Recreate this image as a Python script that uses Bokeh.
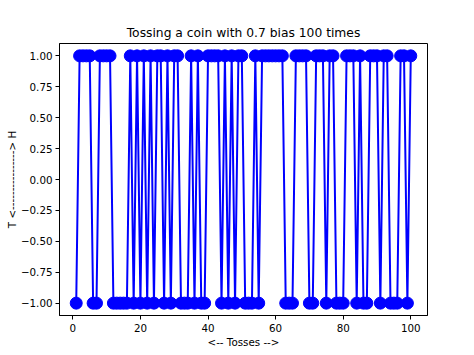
from bokeh.plotting import figure
from bokeh.models import Range1d, FixedTicker, CustomJSTickFormatter
from bokeh.embed import file_html
from bokeh.resources import INLINE

tosses = list(range(1, 101))
outcomes = [
    -1, 1, 1, 1, 1, -1, -1, 1, 1, 1,      # 1-10
    1, -1, -1, -1, -1, -1, 1, -1, 1, -1,  # 11-20
    1, -1, 1, -1, 1, 1, -1, 1, -1, 1,     # 21-30
    1, -1, -1, -1, 1, -1, 1, -1, -1, 1,   # 31-40
    1, 1, 1, -1, 1, -1, 1, -1, 1, 1,      # 41-50
    -1, -1, -1, 1, -1, 1, 1, 1, 1, 1,     # 51-60
    1, 1, -1, -1, -1, 1, 1, 1, 1, -1,     # 61-70
    -1, 1, 1, 1, -1, 1, 1, -1, -1, -1,    # 71-80
    1, 1, 1, -1, 1, -1, -1, 1, 1, 1,      # 81-90
    -1, 1, 1, -1, -1, -1, 1, 1, -1, 1,    # 91-100
]
x_ticks = [0, 20, 40, 60, 80, 100]
y_ticks = [-1.0, -0.75, -0.5, -0.25, 0.0, 0.25, 0.5, 0.75, 1.0]

FONT = "DejaVu Sans"

p = figure(width=474, height=355, output_backend="svg", toolbar_location=None,
           x_range=Range1d(-3.95, 104.95), y_range=Range1d(-1.1, 1.1),
           min_border_left=59, min_border_right=47, min_border_top=43, min_border_bottom=40,
           title="Tossing a coin with 0.7 bias 100 times")
p.background_fill_color = "white"
p.border_fill_color = "white"
p.outline_line_color = "black"
p.outline_line_width = 1
p.xgrid.visible = False
p.ygrid.visible = False

p.title.align = "center"
p.title.text_font = FONT
p.title.text_font_size = "12.3px"
p.title.text_font_style = "normal"
p.title.text_color = "black"
p.title.standoff = 8

p.line(tosses, outcomes, line_color="#0000ff", line_width=2)
p.scatter(tosses, outcomes, size=12, fill_color="#0000ff", line_color="#0000ff")

for ax in (p.xaxis[0], p.yaxis[0]):
    ax.major_label_text_font = FONT
    ax.major_label_text_font_size = "10.3px"
    ax.major_label_text_color = "black"
    ax.axis_label_text_font = FONT
    ax.axis_label_text_font_size = "10.3px"
    ax.axis_label_text_font_style = "normal"
    ax.axis_label_text_color = "black"
    ax.major_tick_out = 4
    ax.major_tick_in = 0
    ax.minor_tick_out = 0
    ax.minor_tick_in = 0
    ax.axis_line_color = "black"
    ax.major_tick_line_color = "black"

p.xaxis.ticker = FixedTicker(ticks=x_ticks)
p.yaxis.ticker = FixedTicker(ticks=y_ticks)
p.yaxis.formatter = CustomJSTickFormatter(
    code='return (tick < 0 ? "\\u2212" : "") + Math.abs(tick).toFixed(2);')
p.xaxis.axis_label = "<-- Tosses -->"
p.yaxis.axis_label = "T <----------------> H"
p.xaxis.major_label_standoff = 4
p.yaxis.major_label_standoff = 3
p.xaxis.axis_label_standoff = 1
p.yaxis.axis_label_standoff = 0

open("out.html", "w").write(file_html(p, INLINE))
